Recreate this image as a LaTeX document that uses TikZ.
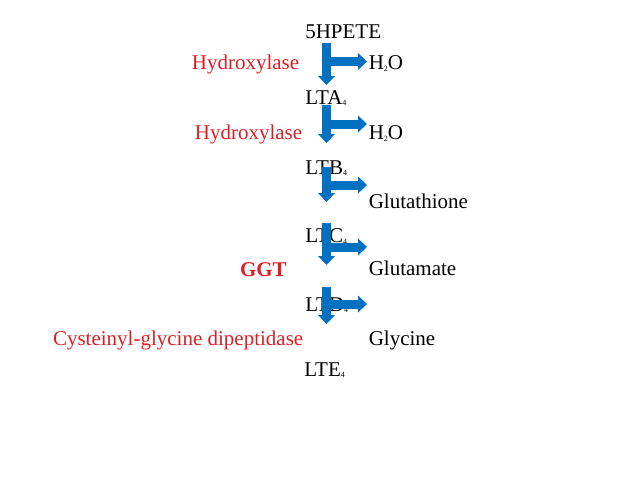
\documentclass[tikz,border=0pt]{standalone}
\usepackage{fontspec}
\setmainfont{Liberation Serif}
\usetikzlibrary{arrows.meta}
\definecolor{enzred}{RGB}{222,30,36}
\definecolor{arrblue}{RGB}{0,112,192}
\newcommand{\sbs}[1]{\raisebox{-1.2pt}{\fontsize{6}{6}\selectfont #1}}
\begin{document}
\begin{tikzpicture}[x=0.75pt,y=-0.75pt,
  lbl/.style={inner sep=0pt, font=\fontsize{15.75}{19}\selectfont},
  enz/.style={lbl, text=enzred},
  barrow/.style={draw=arrblue, line width=6.75pt,
    -{Triangle[width=12.75pt,length=6.75pt,line width=0pt]}}]
\useasboundingbox (0,0) rectangle (638,479);
% metabolites
\node[lbl, anchor=base west] (hpete) at (305,38) {5HPETE};
\node[lbl, anchor=base west] (lta) at (305,104) {LTA\sbs{4}};
\node[lbl, anchor=base west] (ltb) at (305,174) {LTB\sbs{4}};
\node[lbl, anchor=base west] (ltc) at (305,242.5) {LTC\sbs{4}};
\node[lbl, anchor=base west] (ltd) at (305,311) {LTD\sbs{4}};
\node[lbl, anchor=base west] (lte) at (304,376) {LTE\sbs{4}};
% by-products
\node[lbl, anchor=base west] (h2oa) at (368.5,69.5) {H\sbs{2}O};
\node[lbl, anchor=base west] (h2ob) at (368.5,139.5) {H\sbs{2}O};
\node[lbl, anchor=base west] (glt) at (368.5,208.3) {Glutathione};
\node[lbl, anchor=base west] (glm) at (368.5,275.5) {Glutamate};
\node[lbl, anchor=base west] (gly) at (368.5,345.3) {Glycine};
% enzymes
\node[enz, anchor=base east] (hyda) at (299.5,69.5) {Hydroxylase};
\node[enz, anchor=base east] (hydb) at (302.5,139.5) {Hydroxylase};
\node[enz, anchor=base east, font=\fontsize{15.75}{19}\selectfont\bfseries] (ggt) at (287,276.5) {GGT};
\node[enz, anchor=base east] (cgd) at (303.5,345.7) {Cysteinyl-glycine dipeptidase};
% arrow coordinates
\foreach \i/\t/\e/\b in {1/43/85/61.5, 2/105/143/124, 3/167/202/185, 4/223/265/247, 5/287/324/304}{
  \coordinate (s\i) at (326.5,\t);
  \coordinate (e\i) at (326.5,\e);
  \coordinate (b\i) at (326.5,\b);
  \coordinate (p\i) at (367,\b);
}
\foreach \i in {1,...,5}{
  \draw[barrow] (s\i) -- (e\i);
  \draw[barrow] (b\i) -- (p\i);
}
\end{tikzpicture}
\end{document}
